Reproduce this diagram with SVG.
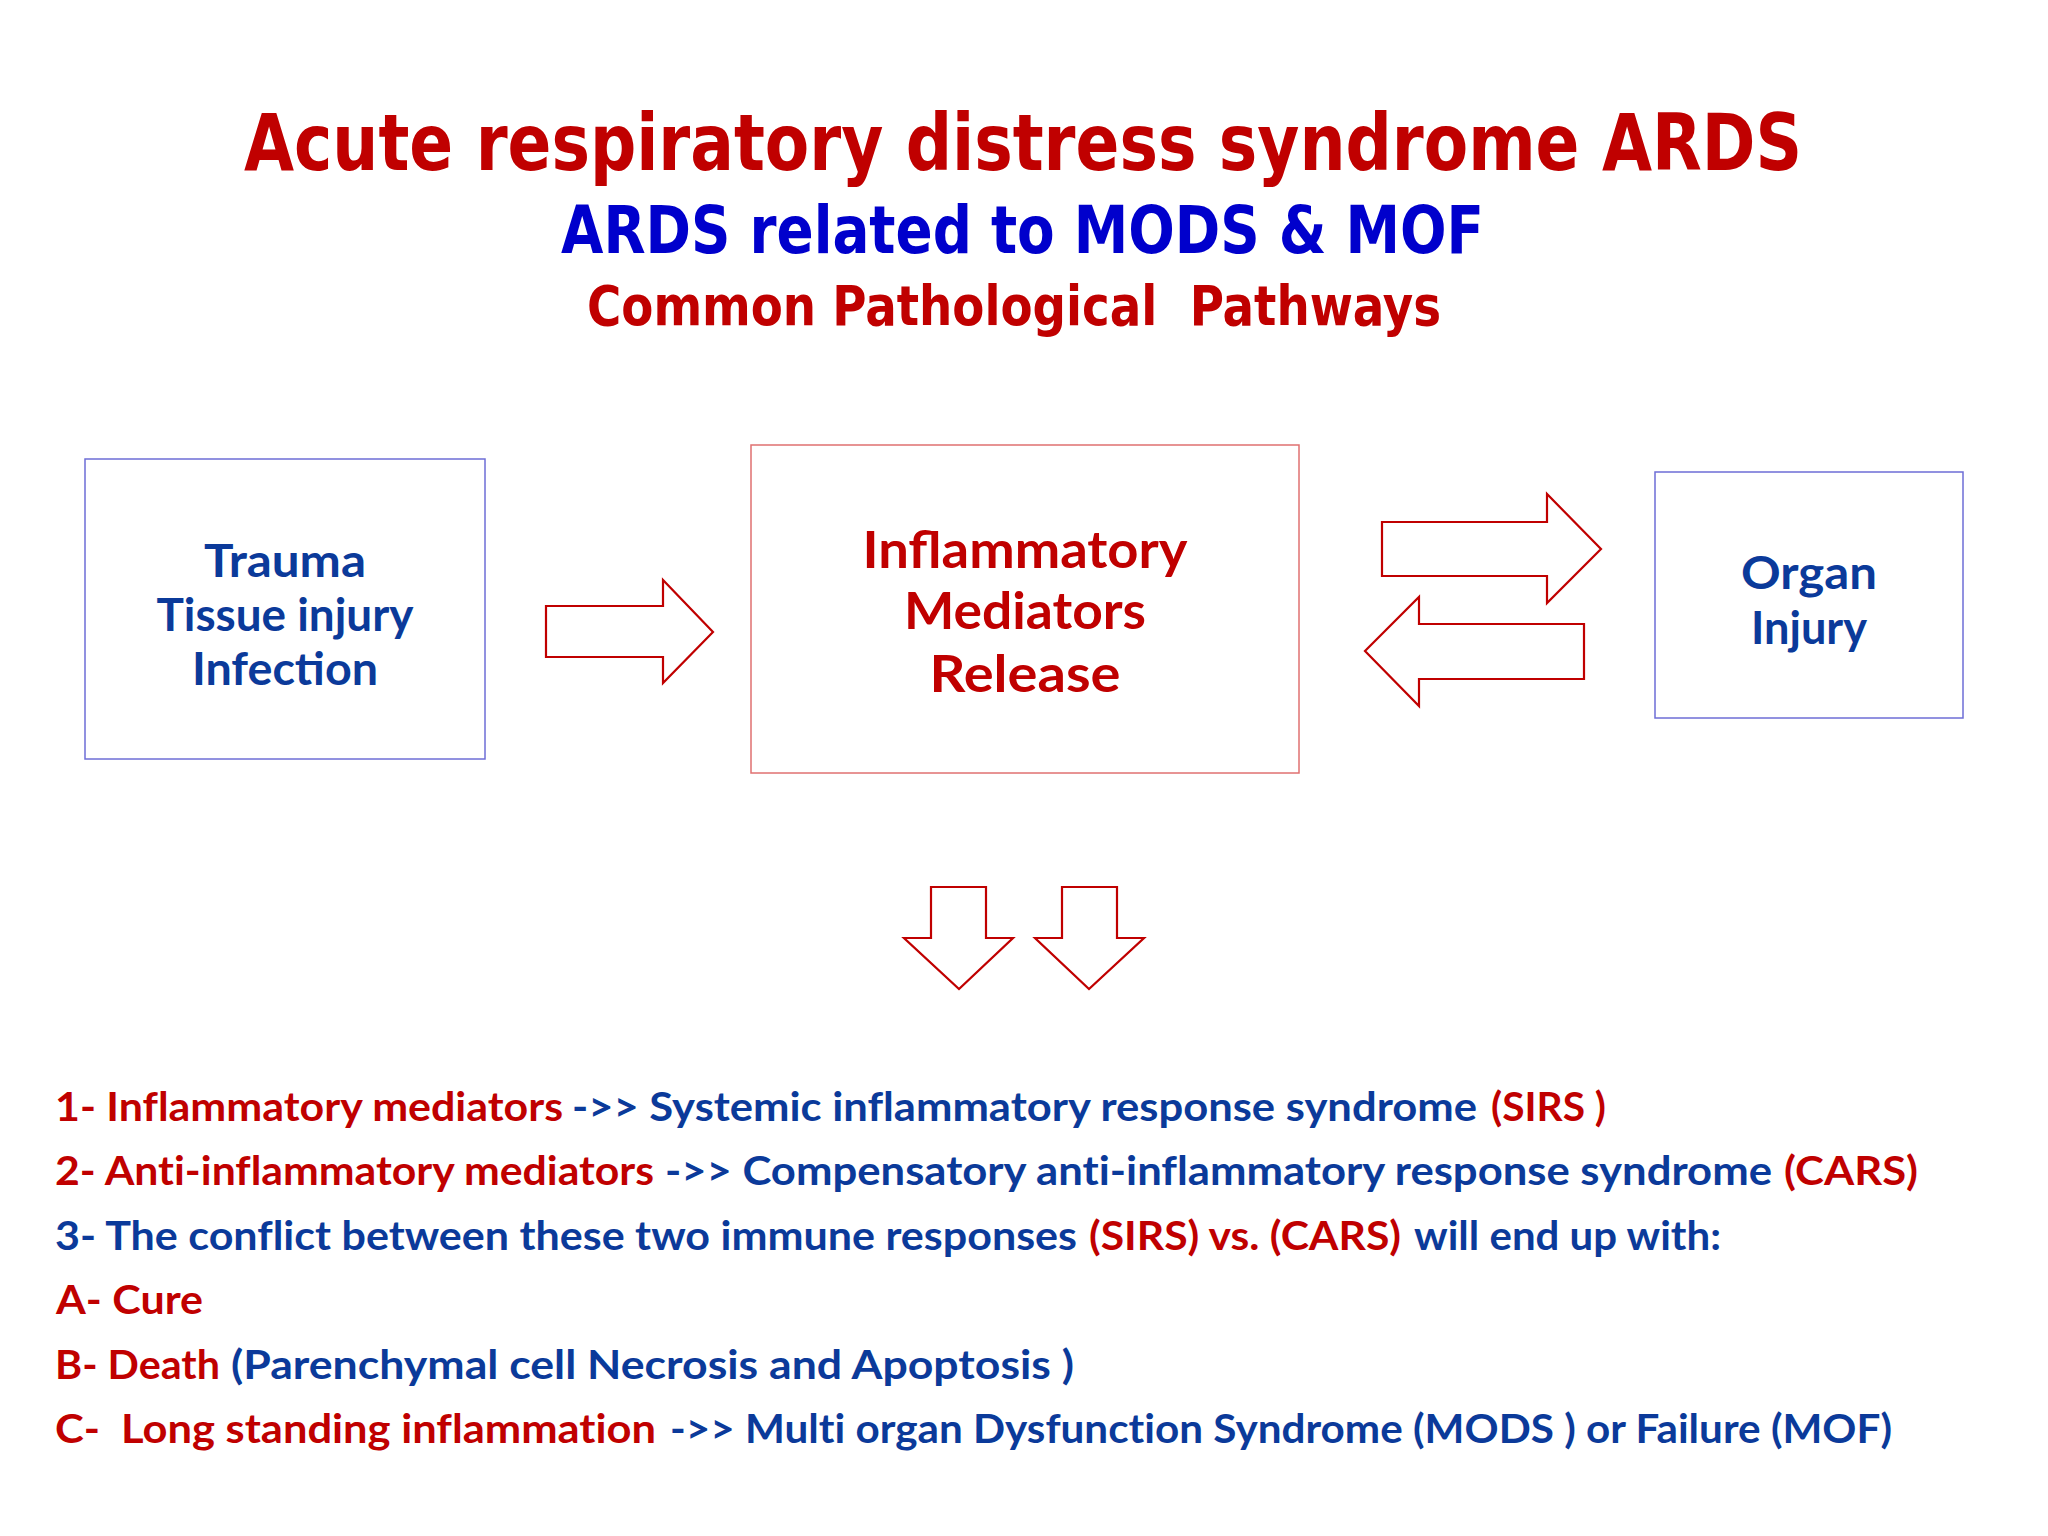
<svg xmlns="http://www.w3.org/2000/svg" width="2048" height="1536" viewBox="0 0 2048 1536">
<style>
.ttl{font-family:"DejaVu Sans Condensed","DejaVu Sans",sans-serif;font-stretch:condensed;font-weight:bold}
.bx{font-family:Lato,"DejaVu Sans",sans-serif;font-weight:bold;text-anchor:middle}
.bd{font-family:Lato,"DejaVu Sans",sans-serif;font-weight:bold;font-size:40px;font-variant-ligatures:none}
.r{fill:#C00000}
.b{fill:#0B3A9A}
.arrow{fill:#FFFFFF;stroke:#C00000;stroke-width:2.2;stroke-linejoin:miter}
</style>
<rect x="0" y="0" width="2048" height="1536" fill="#FFFFFF"/>
<g id="titles">
<text class="ttl r" x="244" y="170" font-size="78" textLength="1558" lengthAdjust="spacingAndGlyphs">Acute respiratory distress syndrome ARDS</text>
<text class="ttl" x="561" y="253" font-size="65" fill="#0000CC" textLength="923" lengthAdjust="spacingAndGlyphs">ARDS related to MODS &amp; MOF</text>
<text class="ttl r" x="587" y="325" font-size="56" textLength="854" lengthAdjust="spacingAndGlyphs">Common Pathological&#160; Pathways</text>
</g>
<g id="node-trauma">
<rect x="85" y="459" width="400" height="300" fill="none" stroke="#6E6ED6" stroke-width="1.5"/>
<text class="bx b" font-size="45"><tspan x="285" y="577" textLength="162" lengthAdjust="spacingAndGlyphs">Trauma</tspan><tspan x="285" y="631" textLength="257" lengthAdjust="spacingAndGlyphs">Tissue injury</tspan><tspan x="285" y="685" textLength="186" lengthAdjust="spacingAndGlyphs">Infection</tspan></text>
</g>
<g id="node-mediators">
<rect x="751" y="445" width="548" height="328" fill="none" stroke="#E07070" stroke-width="1.5"/>
<text class="bx r" font-size="52"><tspan x="1025" y="568" textLength="325" lengthAdjust="spacingAndGlyphs">Inflammatory</tspan><tspan x="1025" y="629" textLength="242" lengthAdjust="spacingAndGlyphs">Mediators</tspan><tspan x="1025" y="692" textLength="191" lengthAdjust="spacingAndGlyphs">Release</tspan></text>
</g>
<g id="node-organ">
<rect x="1655" y="472" width="308" height="246" fill="none" stroke="#6E6ED6" stroke-width="1.5"/>
<text class="bx b" font-size="46"><tspan x="1809" y="589" textLength="136" lengthAdjust="spacingAndGlyphs">Organ</tspan><tspan x="1809" y="644" textLength="116" lengthAdjust="spacingAndGlyphs">Injury</tspan></text>
</g>
<g id="connectors">
<polygon class="arrow" points="546,606 663,606 663,580 713,632 663,683 663,657 546,657"/>
<polygon class="arrow" points="1382,522 1547,522 1547,494 1601,549 1547,603 1547,576 1382,576"/>
<polygon class="arrow" points="1584,624 1419,624 1419,597 1365,651 1419,706 1419,679 1584,679"/>
<polygon class="arrow" points="931,887 986,887 986,938 1013,938 959,989 904,938 931,938"/>
<polygon class="arrow" points="1062,887 1117,887 1117,938 1144,938 1089,989 1035,938 1062,938"/>
</g>
<g id="notes">
<text class="bd r" x="55" y="1121" textLength="508" lengthAdjust="spacingAndGlyphs">1- Inflammatory mediators</text>
<text class="bd b" x="572" y="1121" textLength="905" lengthAdjust="spacingAndGlyphs">-&gt;&gt; Systemic inflammatory response syndrome</text>
<text class="bd r" x="1491" y="1121" textLength="115" lengthAdjust="spacingAndGlyphs">(SIRS )</text>

<text class="bd r" x="55" y="1185" textLength="599" lengthAdjust="spacingAndGlyphs">2- Anti-inflammatory mediators</text>
<text class="bd b" x="665" y="1185" textLength="1107" lengthAdjust="spacingAndGlyphs">-&gt;&gt; Compensatory anti-inflammatory response syndrome</text>
<text class="bd r" x="1784" y="1185" textLength="134" lengthAdjust="spacingAndGlyphs">(CARS)</text>

<text class="bd b" x="55" y="1250" textLength="1022" lengthAdjust="spacingAndGlyphs">3- The conflict between these two immune responses</text>
<text class="bd r" x="1089" y="1250" textLength="312" lengthAdjust="spacingAndGlyphs">(SIRS) vs. (CARS)</text>
<text class="bd b" x="1414" y="1250" textLength="307" lengthAdjust="spacingAndGlyphs">will end up with:</text>

<text class="bd r" x="56" y="1314" textLength="147" lengthAdjust="spacingAndGlyphs">A- Cure</text>

<text class="bd r" x="55" y="1379" textLength="165" lengthAdjust="spacingAndGlyphs">B- Death</text>
<text class="bd b" x="231" y="1379" textLength="843" lengthAdjust="spacingAndGlyphs">(Parenchymal cell Necrosis and Apoptosis )</text>

<text class="bd r" x="55" y="1443" textLength="601" lengthAdjust="spacingAndGlyphs">C-&#160; Long standing inflammation</text>
<text class="bd b" x="670" y="1443" textLength="1222" lengthAdjust="spacingAndGlyphs">-&gt;&gt; Multi organ Dysfunction Syndrome (MODS ) or Failure (MOF)</text>
</g>
</svg>
